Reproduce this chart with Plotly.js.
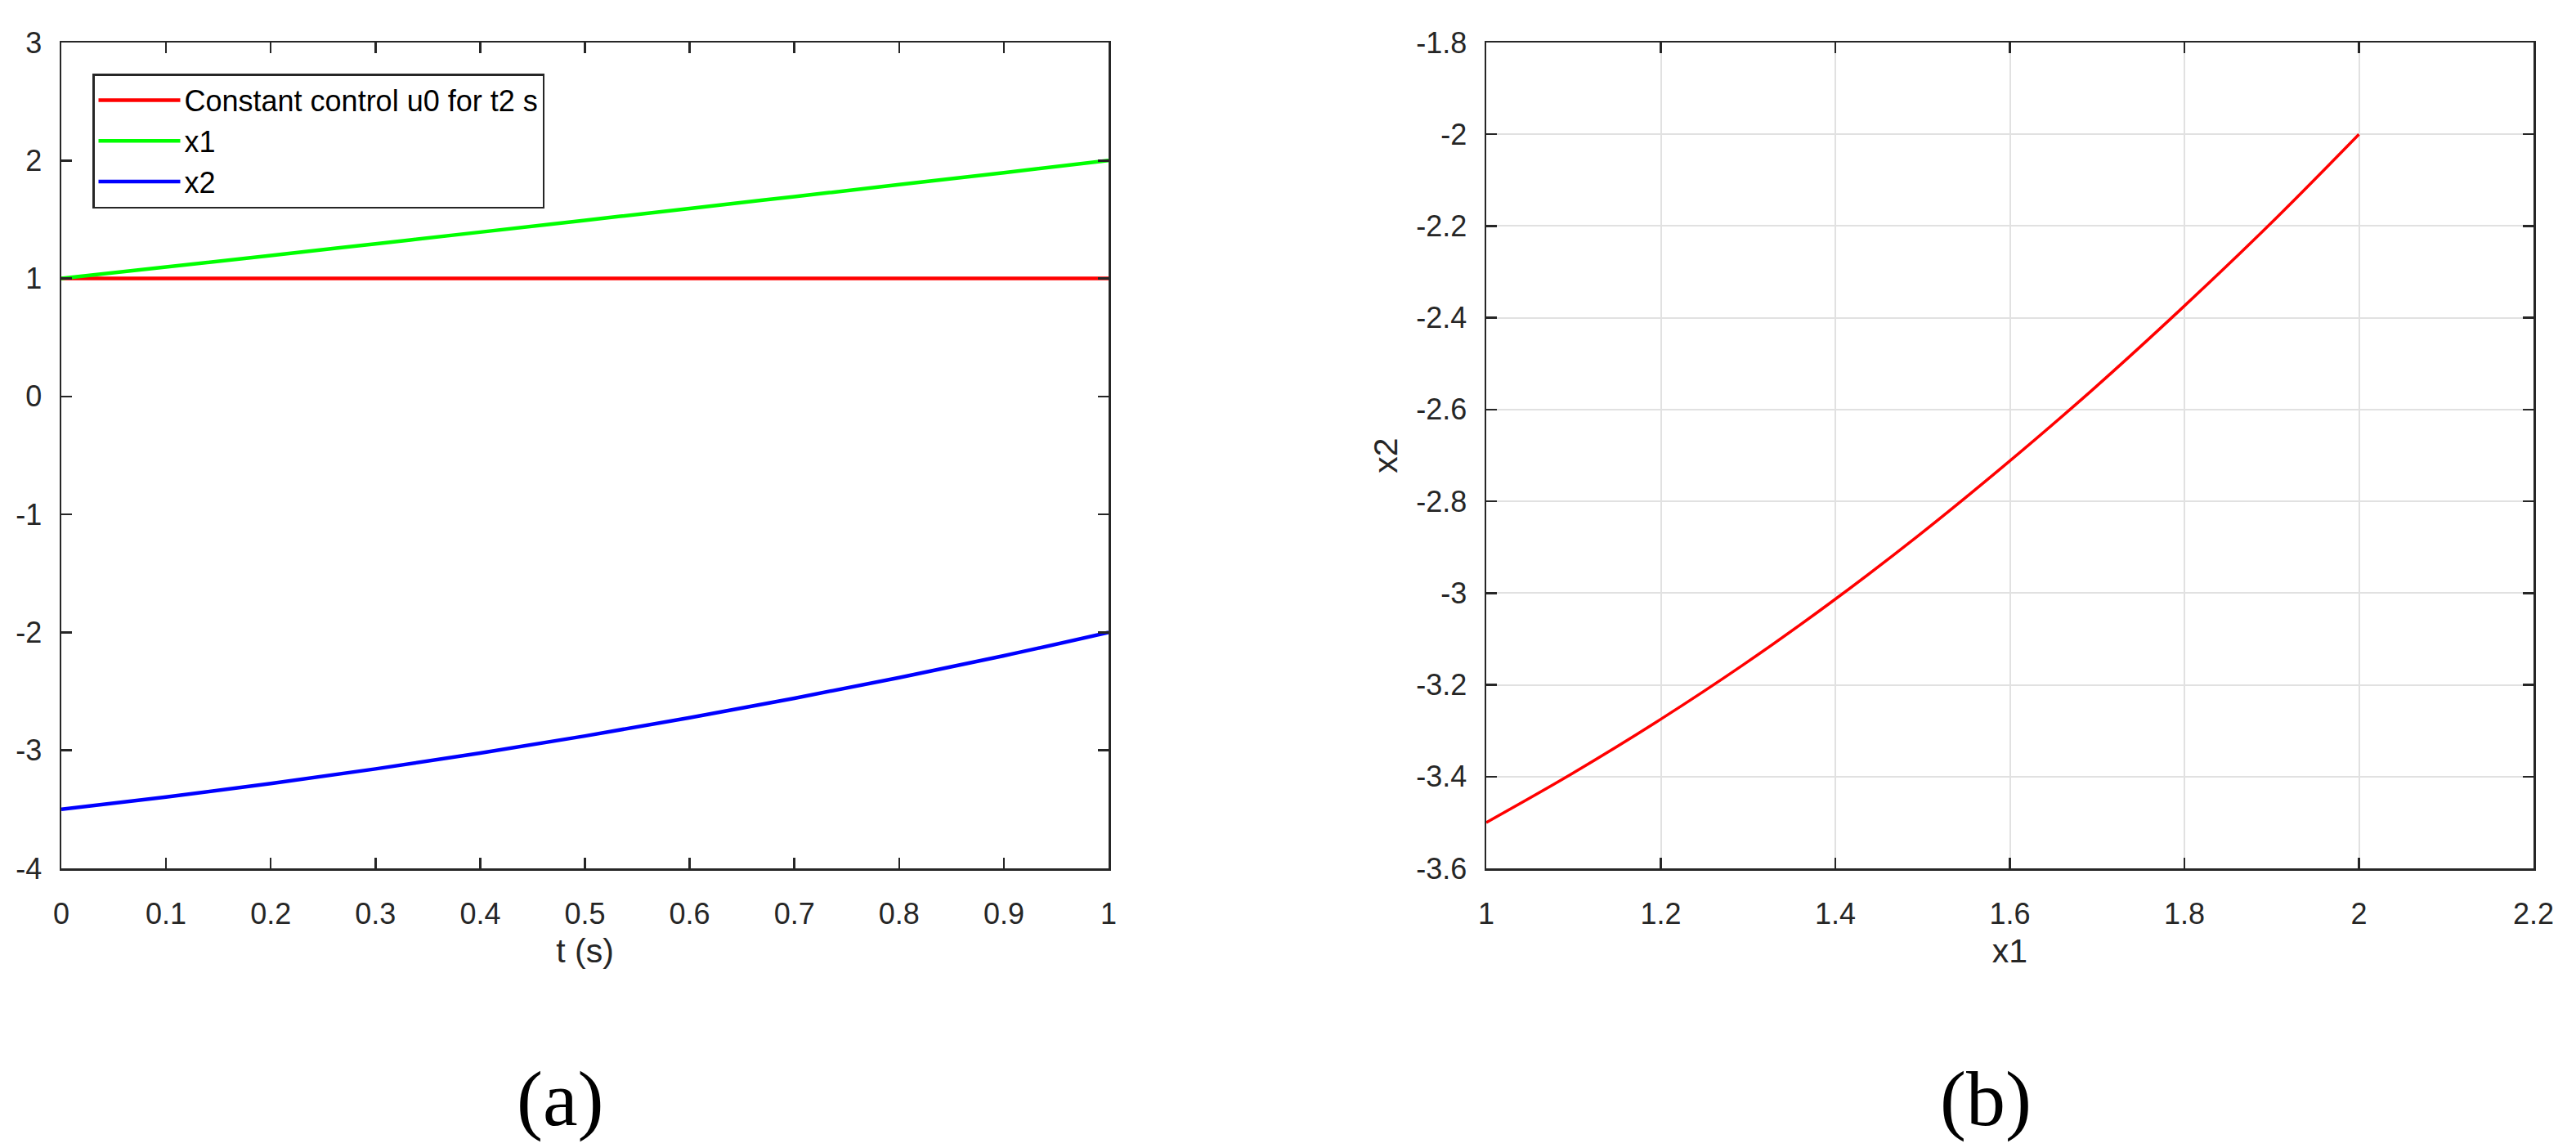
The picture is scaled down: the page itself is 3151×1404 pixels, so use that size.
<!DOCTYPE html>
<html>
<head>
<meta charset="utf-8">
<script src="https://cdn.plot.ly/plotly-3.0.1.min.js"></script>
<style>html,body{margin:0;padding:0;background:#fff;}#chart{width:3151px;height:1404px;}</style>
</head>
<body>
<div id="chart"></div>
<script>
// ---- data ----
const tValues  = [0, 0.1, 0.2, 0.3, 0.4, 0.5, 0.6, 0.7, 0.8, 0.9, 1.0];
const uValues  = [1, 1, 1, 1, 1, 1, 1, 1, 1, 1, 1];
const x1Values = [1.00, 1.097, 1.195, 1.294, 1.393, 1.493, 1.593, 1.694, 1.795, 1.897, 2.00];
const x2Values = [-3.50, -3.395, -3.281, -3.157, -3.023, -2.878, -2.723, -2.558, -2.383, -2.198, -2.00];

const seriesNames = ["Constant control u0 for t2 s", "x1", "x2"];
const seriesColors = ["#ff0000", "#00ff00", "#0000ff"];

const tTickVals = [0, 0.1, 0.2, 0.3, 0.4, 0.5, 0.6, 0.7, 0.8, 0.9, 1];
const tTickText = ["0", "0.1", "0.2", "0.3", "0.4", "0.5", "0.6", "0.7", "0.8", "0.9", "1"];
const yaTickVals = [-4, -3, -2, -1, 0, 1, 2, 3];
const yaTickText = ["-4", "-3", "-2", "-1", "0", "1", "2", "3"];
const x1TickVals = [1, 1.2, 1.4, 1.6, 1.8, 2, 2.2];
const x1TickText = ["1", "1.2", "1.4", "1.6", "1.8", "2", "2.2"];
const x2TickVals = [-3.6, -3.4, -3.2, -3, -2.8, -2.6, -2.4, -2.2, -2, -1.8];
const x2TickText = ["-3.6", "-3.4", "-3.2", "-3", "-2.8", "-2.6", "-2.4", "-2.2", "-2", "-1.8"];

const panelLabels = ["(a)", "(b)"];
const xTitles = ["t (s)", "x1"];
const yTitleB = "x2";

// ---- figure ----
const W = 3151, H = 1404;
const axisColor = "#262626";
const fontFam = "Liberation Sans, Arial, sans-serif";

const traces = [
  {x: tValues, y: uValues, name: seriesNames[0], mode: "lines", line: {color: seriesColors[0], width: 4.5}, xaxis: "x", yaxis: "y"},
  {x: tValues, y: x1Values, name: seriesNames[1], mode: "lines", line: {color: seriesColors[1], width: 4.5, shape: "spline"}, xaxis: "x", yaxis: "y"},
  {x: tValues, y: x2Values, name: seriesNames[2], mode: "lines", line: {color: seriesColors[2], width: 4.5, shape: "spline"}, xaxis: "x", yaxis: "y"},
  {x: x1Values, y: x2Values, name: "x2 vs x1", mode: "lines", showlegend: false, line: {color: "#ff0000", width: 3.5, shape: "spline"}, xaxis: "x2", yaxis: "y2"}
];

function axisBase(extra) {
  return Object.assign({
    showline: true, linecolor: axisColor, linewidth: 2.5, mirror: "ticks",
    ticks: "inside", ticklen: 13, tickwidth: 2.5, tickcolor: axisColor,
    tickmode: "array", zeroline: false, showgrid: false,
    tickfont: {family: fontFam, size: 36, color: axisColor}
  }, extra);
}

const layout = {
  width: W, height: H,
  margin: {l: 0, r: 0, t: 0, b: 0},
  paper_bgcolor: "#ffffff", plot_bgcolor: "#ffffff",
  showlegend: true,
  legend: {
    x: 113 / W, y: 1 - 90 / H, xanchor: "left", yanchor: "top",
    bgcolor: "#ffffff", bordercolor: axisColor, borderwidth: 2.5,
    font: {family: fontFam, size: 36, color: "#000000"},
    tracegroupgap: 0, itemwidth: 100
  },
  xaxis: axisBase({
    domain: [75 / W, 1356 / W], range: [0, 1], anchor: "y",
    tickvals: tTickVals, ticktext: tTickText, ticklabelstandoff: 22,
    title: {text: xTitles[0], font: {family: fontFam, size: 41, color: axisColor}, standoff: 12}
  }),
  yaxis: axisBase({
    domain: [1 - 1062 / H, 1 - 52 / H], range: [-4, 3], anchor: "x",
    tickvals: yaTickVals, ticktext: yaTickText, ticklabelstandoff: 14
  }),
  xaxis2: axisBase({
    domain: [1818 / W, 3099 / W], range: [1, 2.2], anchor: "y2",
    tickvals: x1TickVals, ticktext: x1TickText, ticklabelstandoff: 22,
    showgrid: true, gridcolor: "#e1e1e1", gridwidth: 2,
    title: {text: xTitles[1], font: {family: fontFam, size: 41, color: axisColor}, standoff: 12}
  }),
  yaxis2: axisBase({
    domain: [1 - 1062 / H, 1 - 52 / H], range: [-3.6, -1.8], anchor: "x2",
    tickvals: x2TickVals, ticktext: x2TickText, ticklabelstandoff: 14,
    showgrid: true, gridcolor: "#e1e1e1", gridwidth: 2,
    title: {text: yTitleB, font: {family: fontFam, size: 41, color: axisColor}, standoff: 10}
  }),
  annotations: [
    {text: panelLabels[0], xref: "paper", yref: "paper", x: 685 / W, y: 1 - 1343 / H, xanchor: "center", yanchor: "middle", showarrow: false,
     font: {family: "Liberation Serif, Times New Roman, serif", size: 96, color: "#000000"}},
    {text: panelLabels[1], xref: "paper", yref: "paper", x: 2429 / W, y: 1 - 1343 / H, xanchor: "center", yanchor: "middle", showarrow: false,
     font: {family: "Liberation Serif, Times New Roman, serif", size: 96, color: "#000000"}}
  ]
};

Plotly.newPlot("chart", traces, layout, {staticPlot: true, displayModeBar: false});
</script>
</body>
</html>
